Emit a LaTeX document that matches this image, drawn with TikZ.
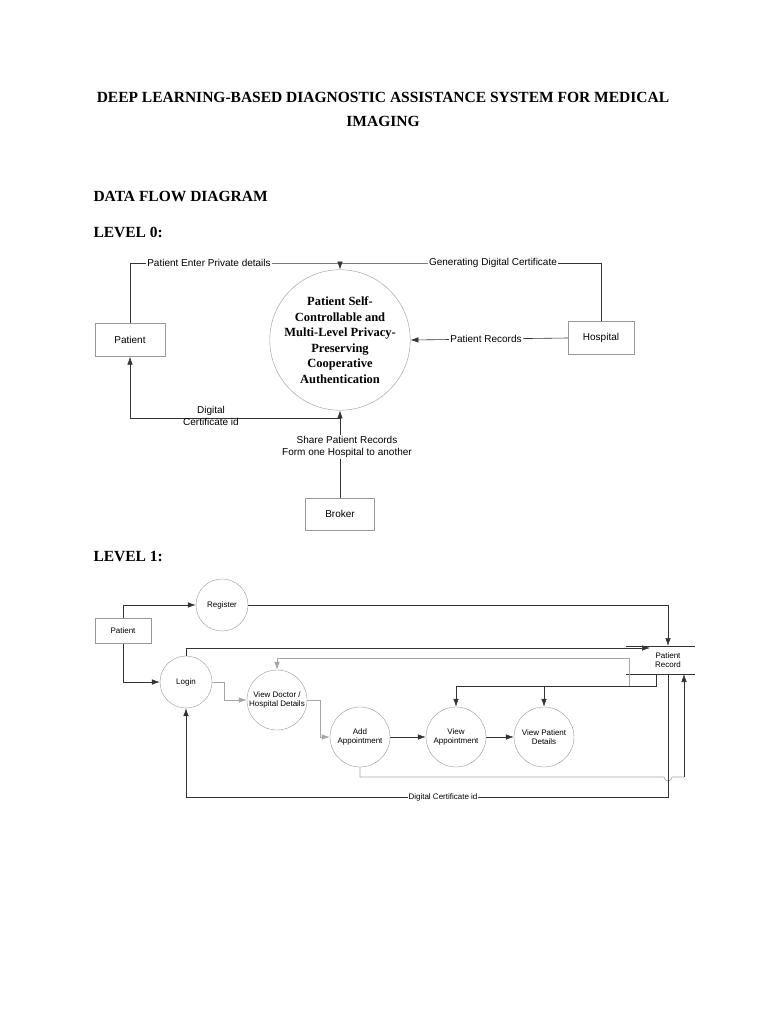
\documentclass[tikz,border=0pt]{standalone}
\usepackage{fontspec}
\setmainfont{Liberation Serif}
\setsansfont{Liberation Sans}
\usetikzlibrary{arrows.meta}
\begin{document}
\begin{tikzpicture}
    [x=1pt,y=-1pt,
    flow/.style = {draw=black!80, line width=0.6pt, -{Latex[length=8pt,width=5.5pt]}},
    line/.style = {draw=black!80, line width=0.6pt},
    soft/.style = {draw=black!35, line width=0.7pt},
    entity/.style = {draw=black!40, rectangle, font=\sffamily\fontsize{10}{11}\selectfont},
    proc/.style = {draw=black!40, circle, align=center, inner sep=0pt, font=\sffamily\fontsize{8}{9}\selectfont},
    lbl/.style = {fill=white, inner sep=1pt, align=center, font=\sffamily\fontsize{10}{12}\selectfont},
    slbl/.style = {fill=white, inner sep=1pt, font=\sffamily\fontsize{8}{9}\selectfont},
    head/.style = {font=\bfseries\fontsize{15.5}{17}\selectfont, anchor=west}]
    \useasboundingbox[fill=white] (0,0) rectangle (768,1024);
    % Titulo
    \node[font=\bfseries\fontsize{15.5}{17}\selectfont] at (383,97) {DEEP LEARNING-BASED DIAGNOSTIC ASSISTANCE SYSTEM FOR MEDICAL};
    \node[font=\bfseries\fontsize{15.5}{17}\selectfont] at (383,121) {IMAGING};
    \node[head] at (90,196) {DATA FLOW DIAGRAM};
    \node[head] at (90,232) {LEVEL 0:};
    \node[head] at (90,556) {LEVEL 1:};
    % Nivel 0
    \node[draw=black!40, circle, minimum size=128pt, align=center, inner sep=0pt,
          font=\bfseries\fontsize{12.5}{15.5}\selectfont] (auth) at (340,340)
          {Patient Self-\\Controllable and\\Multi-Level Privacy-\\Preserving\\Cooperative\\Authentication};
    \node[entity, minimum width=70pt, minimum height=33pt] (patient) at (130,340) {Patient};
    \node[entity, minimum width=66pt, minimum height=33pt] (hospital) at (601,338) {Hospital};
    \node[entity, minimum width=69pt, minimum height=32pt] (broker) at (340,514) {Broker};
    \coordinate (top) at (340,263);
    \coordinate (bot) at (340,418);
    \draw[line] (patient.north) |- (top) -| (hospital.north);
    \draw[flow] (top) -- (auth.north);
    \draw[flow] (hospital.west) -- (auth.east);
    \draw[flow] (bot) -| (patient.south);
    \draw[flow] (broker.north) -- (auth.south);
    \node[lbl] at (209,263) {Patient Enter Private details};
    \node[lbl] at (493,263) {Generating Digital Certificate};
    \node[lbl] at (486,339) {Patient Records};
    \node[lbl, fill=none] at (211,416) {Digital\\Certificate id};
    \node[lbl] at (347,447) {Share Patient Records\\Form one Hospital to another};
    % Nivel 1
    \node[entity, minimum width=56pt, minimum height=25pt, font=\sffamily\fontsize{8}{9}\selectfont] (pat1) at (123,631) {Patient};
    \node[proc, minimum size=52pt] (register) at (222,605) {Register};
    \node[proc, minimum size=52pt] (login) at (186,682) {Login};
    \node[proc, minimum size=60pt] (doctor) at (277,700) {View Doctor /\\Hospital Details};
    \node[proc, minimum size=60pt] (addapp) at (360,737) {Add\\Appointment};
    \node[proc, minimum size=60pt] (viewapp) at (456,737) {View\\Appointment};
    \node[proc, minimum size=60pt] (viewpat) at (544,737) {View Patient\\Details};
    % Almacen de datos
    \node[align=center, font=\sffamily\fontsize{8}{9}\selectfont] (record) at (668,660) {Patient\\Record};
    \draw[line] (626,646) -- (695,646);
    \draw[line] (626,674) -- (695,674);
    \coordinate (recN) at (668,646);
    \coordinate (recS) at (656,674);
    % Conexiones
    \draw[flow] (pat1.north) |- (register.west);
    \draw[flow] (pat1.south) |- (login.west);
    \draw[flow] (register.east) -| (recN);
    \draw[flow] (login.north) |- (650,648);
    \draw[soft, -{Latex[length=8pt,width=5.5pt]}] (login.east) -- (224,682) |- (doctor.west);
    \draw[soft, -{Latex[length=8pt,width=5.5pt]}] (doctor.east) -- (320,700) |- (addapp.west);
    \draw[flow] (addapp.east) -- (viewapp.west);
    \draw[flow] (viewapp.east) -- (viewpat.west);
    \draw[flow] (recS) |- (456,686) -- (viewapp.north);
    \draw[flow] (544,686) -- (viewpat.north);
    \draw[soft, -{Latex[length=8pt,width=5.5pt]}] (629,686) |- (277,658) -- (doctor.north);
    \draw[soft] (addapp.south) |- (664,777) arc (180:0:4) -- (684,777);
    \draw[flow] (684,777) -- (684,674);
    \draw[flow] (668,674) |- (186,797) -- (login.south);
    \node[slbl] at (443,797) {Digital Certificate id};
\end{tikzpicture}
\end{document}
